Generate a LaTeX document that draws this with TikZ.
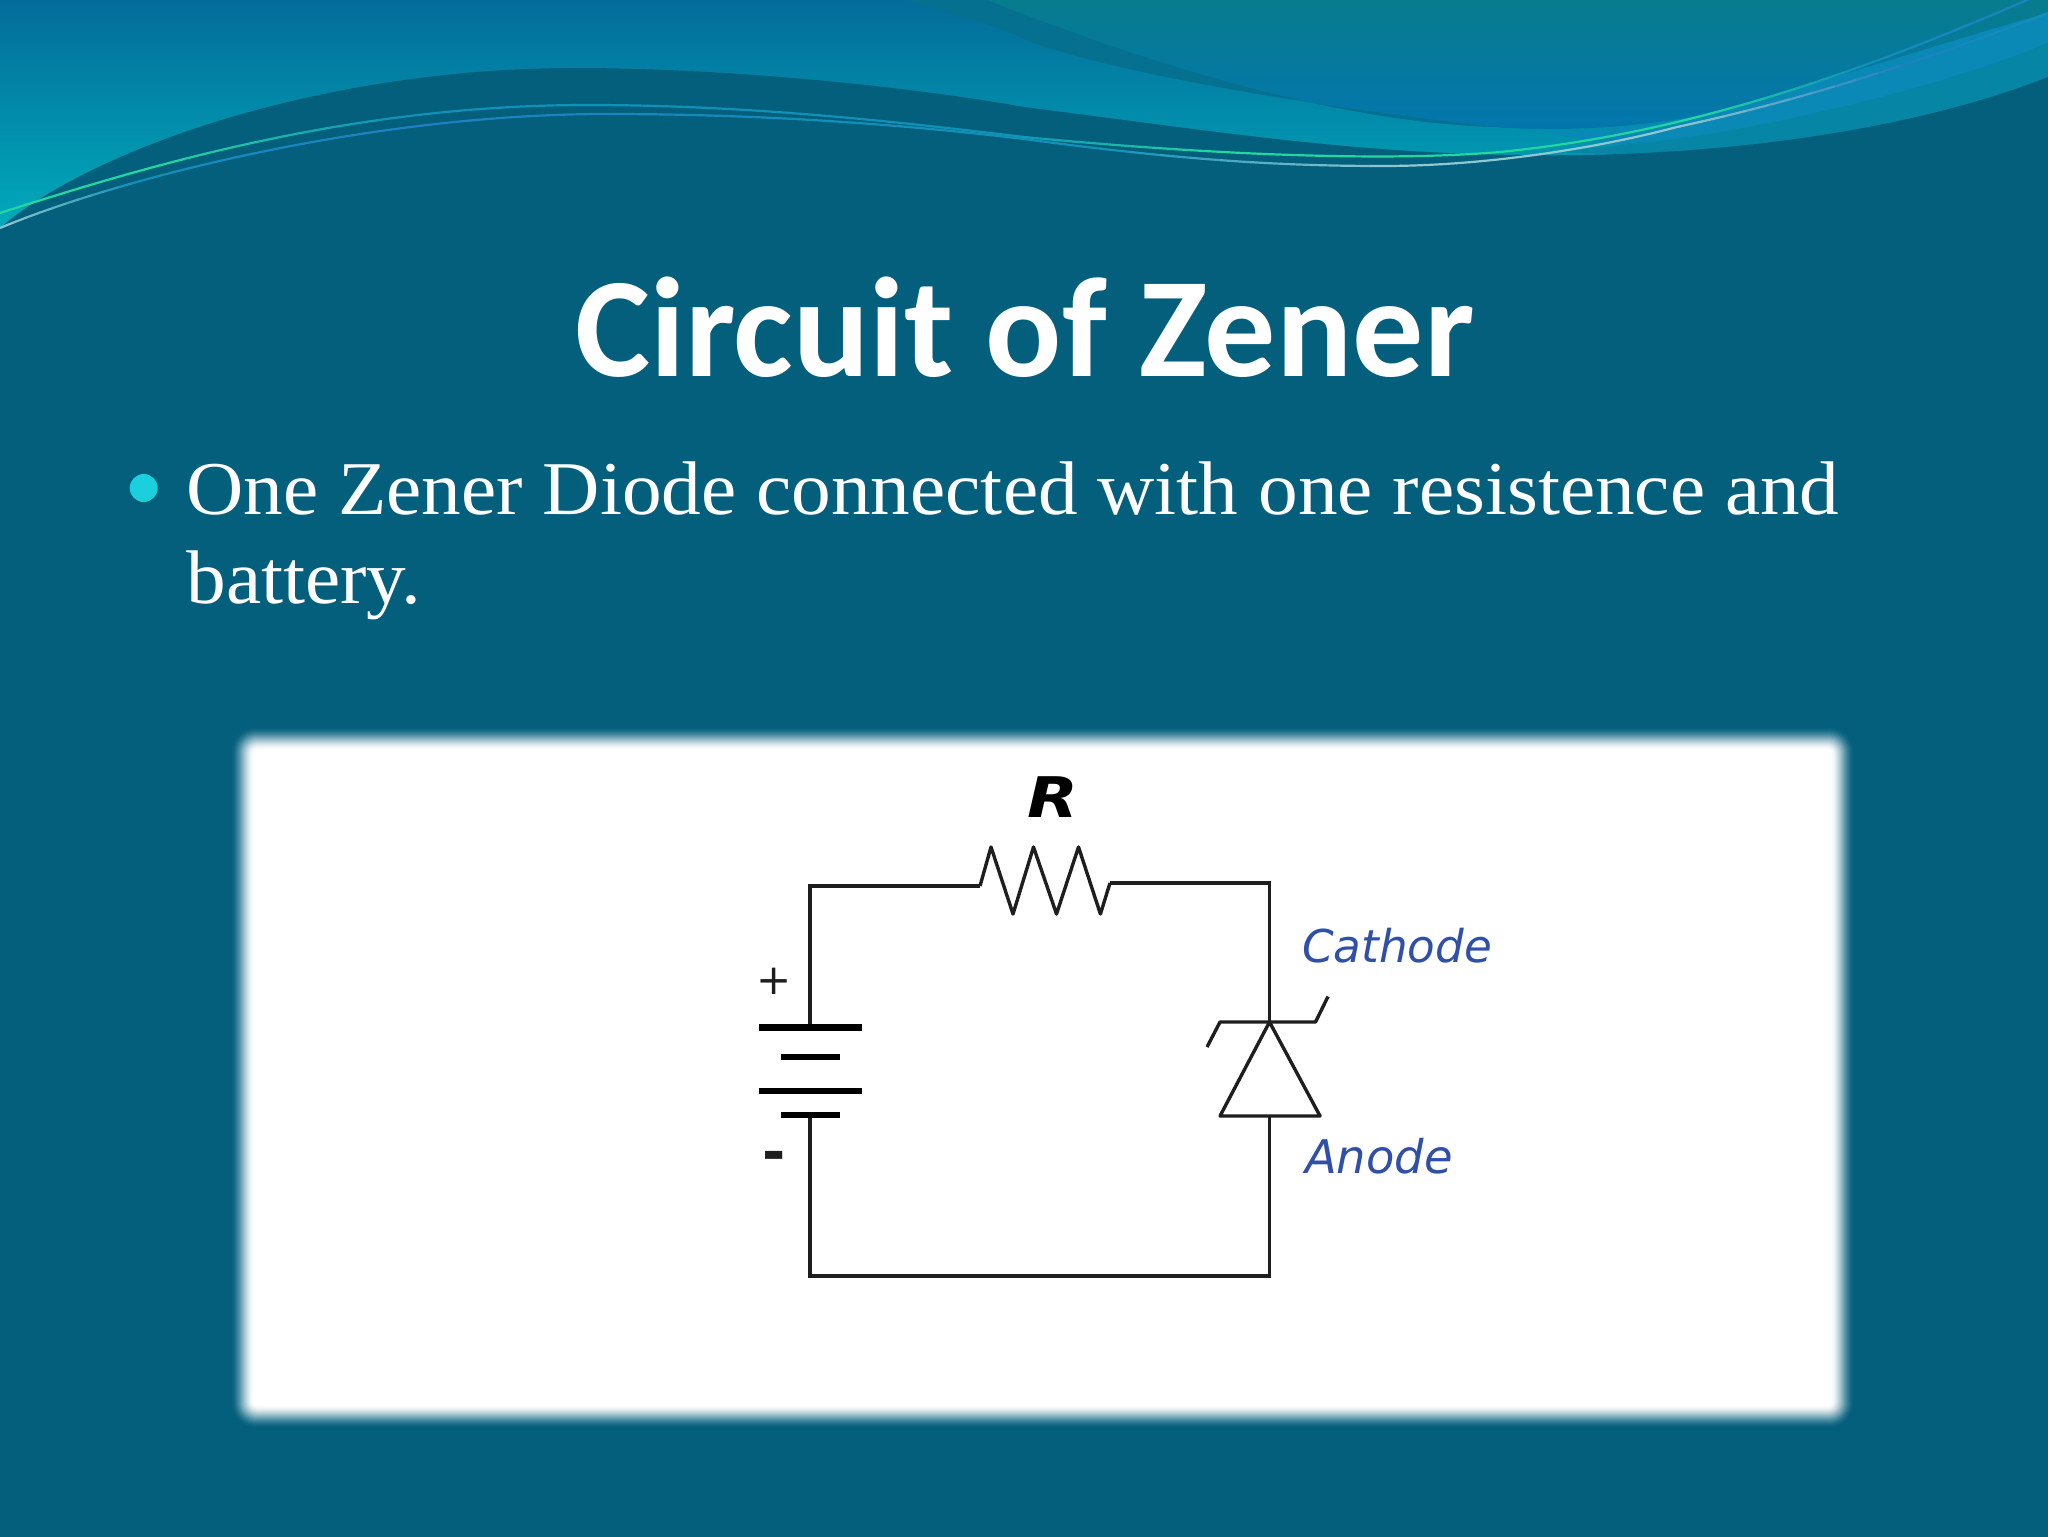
\documentclass[tikz,border=0pt]{standalone}
\usepackage{fontspec}
\setmainfont{Liberation Serif}
\newfontfamily\titlefont{Carlito}[Scale=1]
\newfontfamily\bodyfont{Liberation Serif}[FakeStretch=1.043]
\newfontfamily\labelfont{DejaVu Sans}
\usetikzlibrary{calc}
\definecolor{slidebg}{HTML}{045F7D}
\definecolor{stripc}{HTML}{05708F}
\definecolor{bandblue}{HTML}{0A88B6}
\definecolor{bandteal}{HTML}{0785A5}
\definecolor{lgreen}{HTML}{22D8A0}
\definecolor{lblue}{HTML}{1F7FC0}
\definecolor{lsky}{HTML}{1190B8}
\definecolor{lpale}{HTML}{8FC8D0}
\definecolor{bulletc}{HTML}{1CCFDC}
\definecolor{labelblue}{HTML}{2F4FA8}
\definecolor{wirec}{HTML}{1E1E1E}
% #1 curve, #2 width, #3 list of x0/x1/c0/c1
\newcommand{\gradcurve}[3]{%
  \foreach \xa/\xb/\ca/\cb in {#3}{%
    \foreach \k in {0,10,...,90}{%
      \pgfmathsetmacro{\xl}{\xa+(\xb-\xa)/100*\k}%
      \pgfmathsetmacro{\xr}{\xa+(\xb-\xa)/100*(\k+10)+0.5}%
      \pgfmathtruncatemacro{\mixv}{100-\k-5}%
      \begin{scope}
        \clip (\xl,-5) rectangle (\xr,260);
        \draw[color=\ca!\mixv!\cb,line width=#2] #1;
      \end{scope}%
    }%
  }%
}
\tikzset{
  wire/.style={draw=wirec,line width=1.7pt,line join=miter},
  plate/.style={draw=black,line width=3.4pt},
  sym/.style={draw=wirec,line width=1.7pt,line join=round},
  ttl/.style={text=white,font=\titlefont\bfseries\fontsize{71}{71}\selectfont,inner sep=0pt,anchor=base},
  bodytxt/.style={text=white,font=\bodyfont\fontsize{38}{38}\selectfont,inner sep=0pt,anchor=base west},
  lbl/.style={text=labelblue,inner sep=0pt}
}
\begin{document}
\begin{tikzpicture}[x=0.5pt,y=-0.5pt]
\useasboundingbox (0,0) rectangle (2048,1536);
\fill[slidebg] (-6,-6) rectangle (2054,1542);
% top gradient
\shade[top color={rgb,255:red,4;green,108;blue,154},bottom color={rgb,255:red,0;green,172;blue,188}]
  (0,0) rectangle (2048,235);
% upper right region
\shade[top color={rgb,255:red,7;green,124;blue,142},bottom color={rgb,255:red,4;green,118;blue,174}]
  (986,0) .. controls (1090,40) and (1300,120) .. (1494,127)
  .. controls (1560,132) and (1640,128) .. (1710,113)
  .. controls (1800,90) and (1950,40) .. (2048,13) -- (2048,0) -- cycle;
% dark strip
\fill[stripc] (908,0) -- (986,0) .. controls (1090,40) and (1300,120) .. (1494,127)
  .. controls (1300,105) and (1100,70) .. (1024,39) .. controls (990,22) and (945,12) .. (908,0) -- cycle;
% bright band
\fill[bandblue] (1540,132) .. controls (1600,132) and (1640,128) .. (1710,113)
  .. controls (1800,90) and (1950,40) .. (2048,13) -- (2048,43)
  .. controls (1950,85) and (1750,135) .. (1620,145) -- cycle;
% lower band
\fill[bandteal] (1560,152) -- (1620,145) .. controls (1750,135) and (1950,85) .. (2048,43) -- (2048,90) -- (1800,160) -- cycle;
% main dark shape
\fill[slidebg] (0,228) .. controls (90,150) and (320,68) .. (575,68)
  .. controls (720,68) and (900,85) .. (1024,107)
  .. controls (1220,132) and (1350,153) .. (1520,155)
  .. controls (1700,158) and (1900,135) .. (2048,77)
  -- (2048,260) -- (0,260) -- cycle;
% thin lines
\gradcurve{(0,228) .. controls (120,178) and (370,114) .. (607,114) .. controls (760,114) and (900,124) .. (1024,139) .. controls (1180,160) and (1280,166) .. (1383,166) .. controls (1480,166) and (1590,150) .. (1677,127) .. controls (1780,105) and (1900,70) .. (2048,13)}{1.1pt}{0/131/lpale/lsky,131/420/lsky/lblue,420/900/lblue/lsky,900/1100/lsky/lsky,1100/1400/lsky/lpale,1400/1680/lpale/lpale,1680/1900/lpale/lblue,1900/2048/lblue/lsky}
\gradcurve{(0,213) .. controls (150,165) and (350,105) .. (588,105) .. controls (750,105) and (900,122) .. (1024,137) .. controls (1180,152) and (1370,163) .. (1500,152) .. controls (1640,138) and (1800,100) .. (2036,-4)}{1.1pt}{0/160/lgreen/lgreen,160/400/lgreen/lsky,400/1000/lsky/lsky,1000/1220/lsky/lgreen,1220/1700/lgreen/lgreen,1700/1860/lgreen/lsky,1860/2048/lsky/lblue}
% title & body
\node[ttl] (title) at (1025,376) {Circuit of Zener};
\fill[bulletc] (143.7,488) circle (14);
\node[bodytxt] (line1) at (186,514) {One Zener Diode connected with one resistence and};
\node[bodytxt] (line2) at (186,603) {battery.};
% picture with blurred edge
\foreach \d in {12,11,...,-12}{
  \pgfmathsetmacro{\tt}{(12-\d)/24}
  \pgfmathsetmacro{\m}{100*\tt*\tt*(3-2*\tt)}
  \pgfmathsetmacro{\rr}{max(2,(12+\d)*0.9+4)}
  \fill[white!\m!slidebg,rounded corners=\rr*0.5pt] (242-\d,738-\d) rectangle (1843+\d,1417+\d);
}
% circuit
\coordinate (tl) at (810,886);
\coordinate (tr) at (1269.5,883);
\coordinate (bl) at (810,1276);
\coordinate (br) at (1269.5,1276);
\coordinate (r0) at (980,886);
\coordinate (r1) at (1110,883);
\coordinate (batA) at (810,1027.5);
\coordinate (batB) at (810,1115);
\coordinate (kat) at (1269.5,1022);
\coordinate (ano) at (1269.5,1116);
\draw[wire] (batA) -- (tl) -- (r0);
\draw[sym] (r0) -- (991,847) -- (1013,914) -- (1033.5,847) -- (1056.5,914) -- (1078.5,847) -- (1100.4,914) -- (r1);
\draw[wire] (r1) -- (tr) -- (kat);
\draw[wire] (batB) -- (bl) -- (br) -- (ano);
\draw[plate] (759,1027.5) -- (862,1027.5);
\draw[plate] (781,1057) -- (840,1057);
\draw[plate] (759,1091) -- (862,1091);
\draw[plate] (781,1115) -- (840,1115);
\draw[sym] (kat) -- (1320,1116) -- (1220,1116) -- cycle;
\draw[sym] (1207,1047) -- (1220,1022) -- (1315.5,1022) -- (1328,996.5);
\node[font=\labelfont\fontsize{21}{21}\selectfont,text=wirec,inner sep=0pt] (plus) at (774,981) {+};
\node[font=\labelfont\bfseries\fontsize{28}{28}\selectfont,text=wirec,inner sep=0pt] (minus) at (774,1161) {-};
\node[font=\labelfont\bfseries\itshape\fontsize{28}{28}\selectfont,text=black,inner sep=0pt,xscale=1.18] (rlabel) at (1053,797) {R};
\node[lbl,font=\labelfont\itshape\fontsize{22.6}{22.6}\selectfont] (cathode) at (1397,946) {Cathode};
\node[lbl,font=\labelfont\itshape\fontsize{23.2}{23.2}\selectfont] (anode) at (1379,1156) {Anode};
\end{tikzpicture}
\end{document}
